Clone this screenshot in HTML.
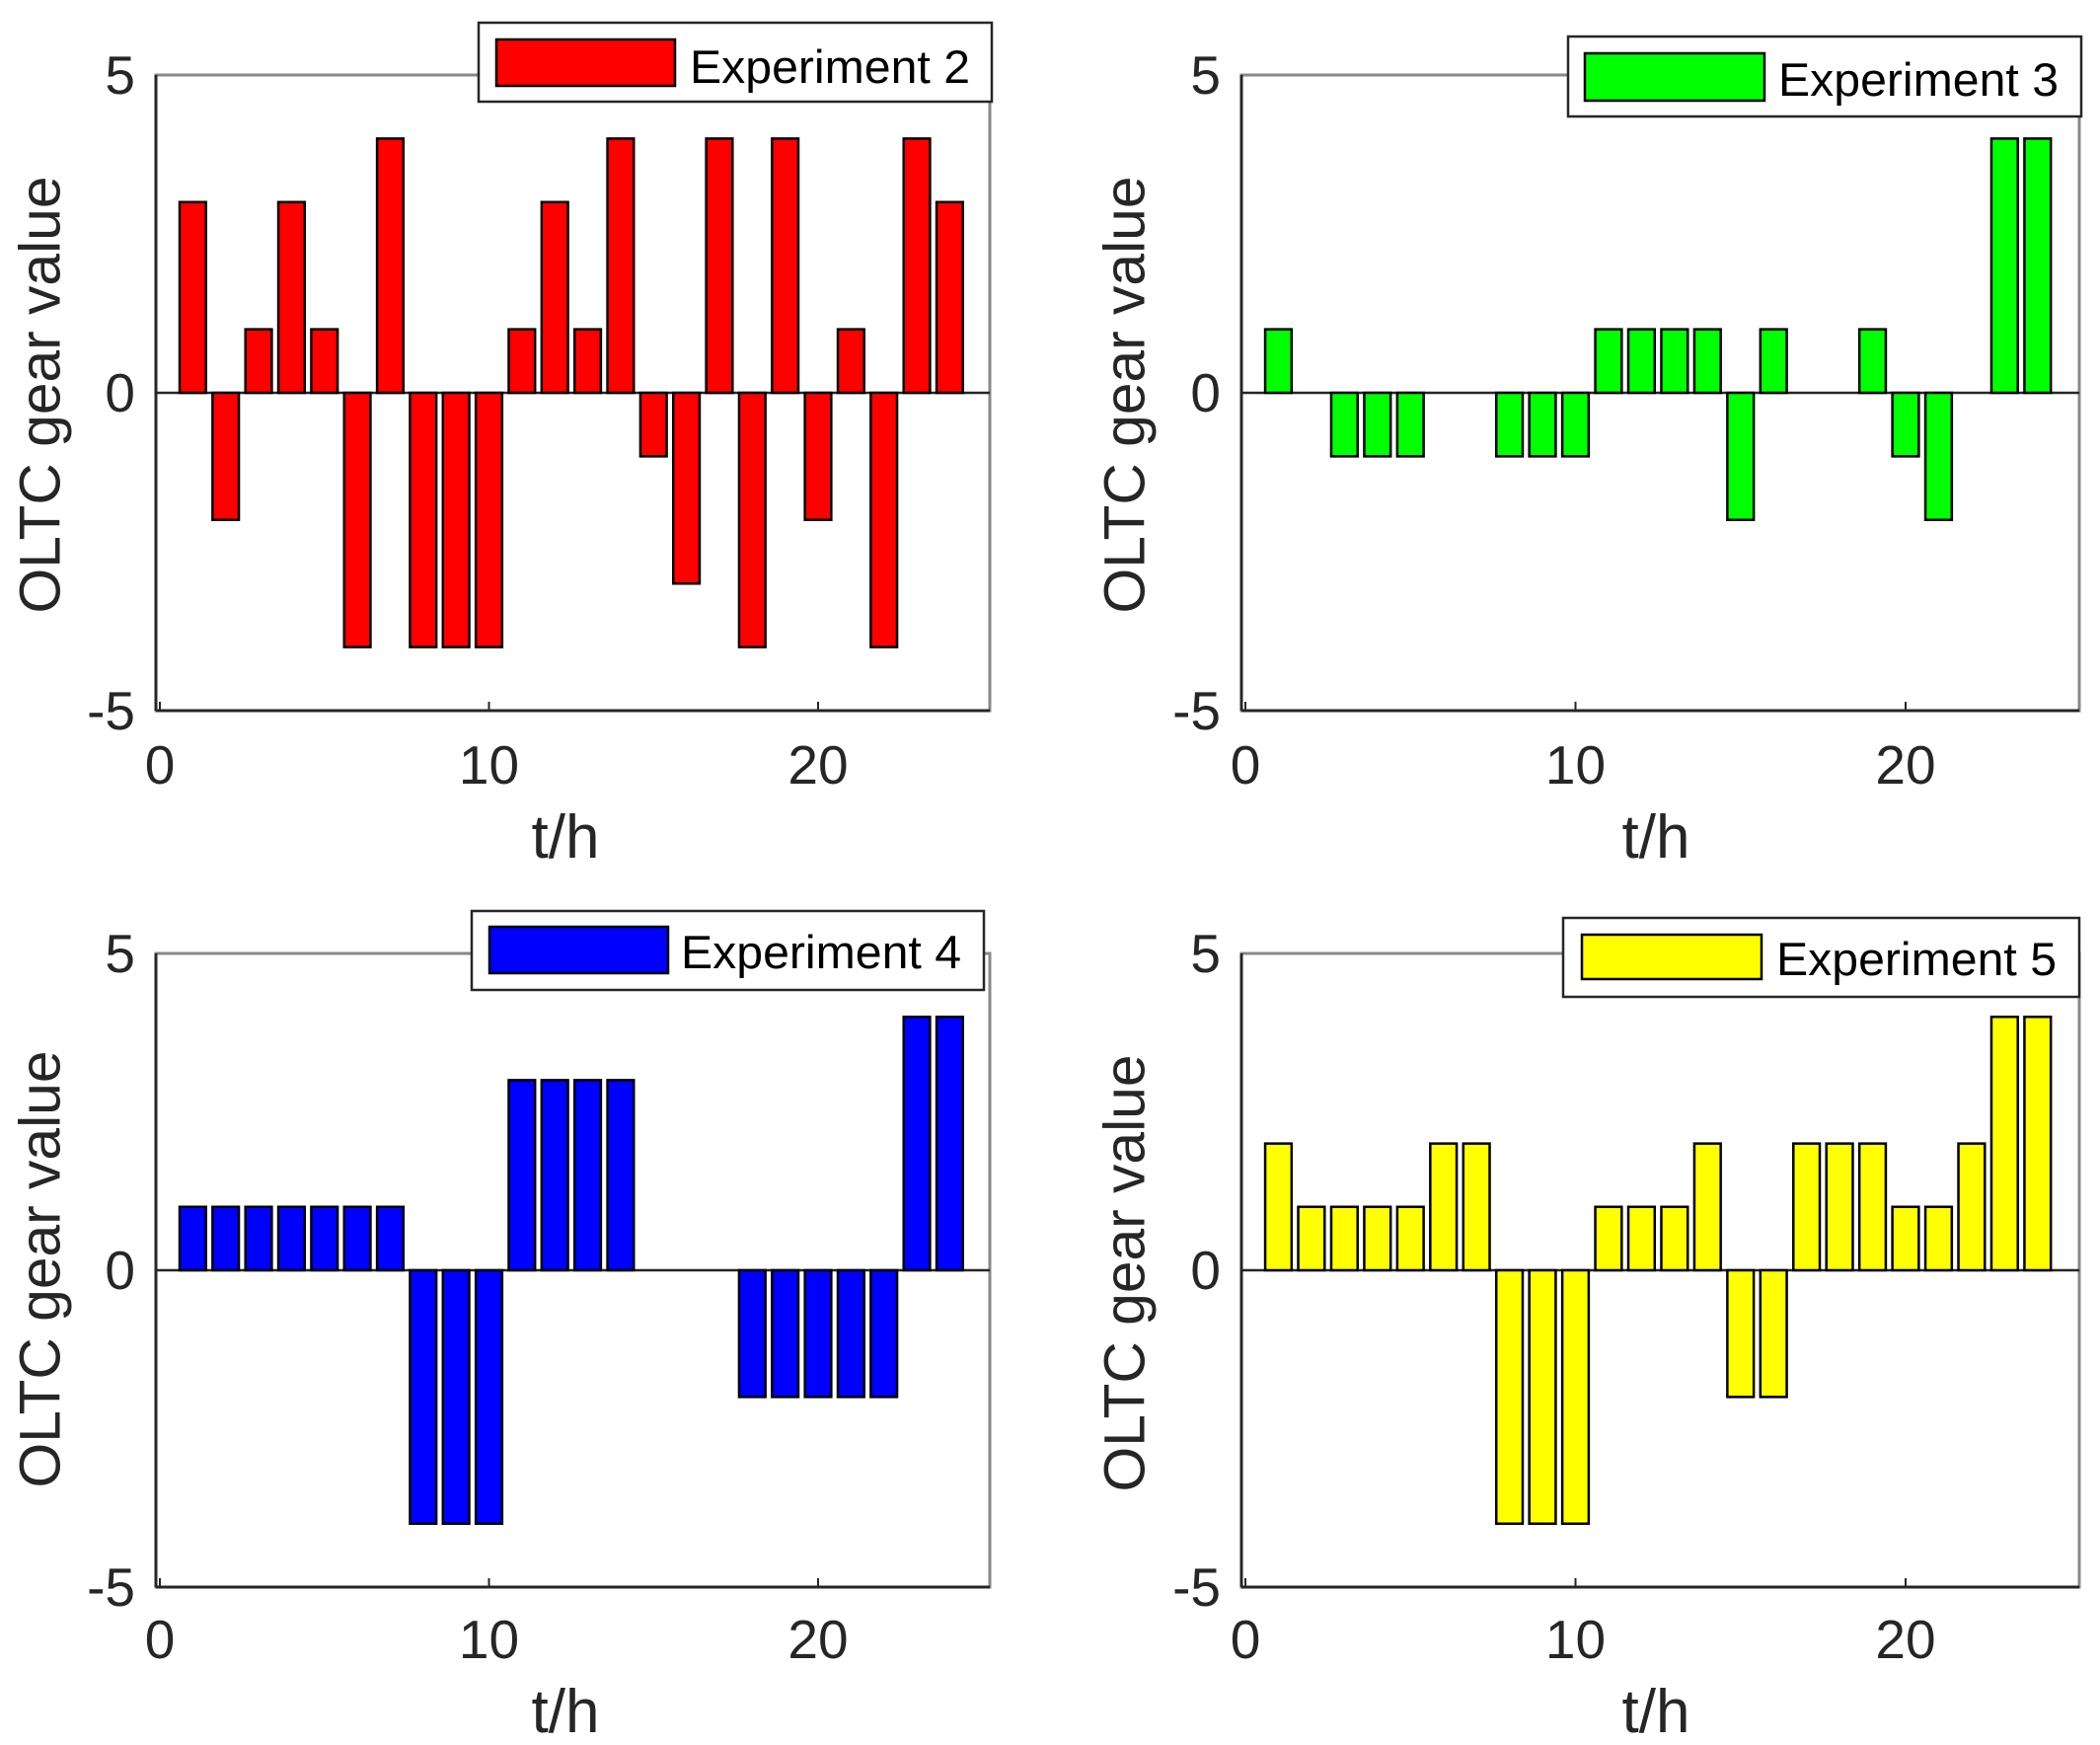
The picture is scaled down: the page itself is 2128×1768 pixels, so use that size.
<!DOCTYPE html>
<html><head><meta charset="utf-8"><style>
html,body{margin:0;padding:0;background:#fff;overflow:hidden}
svg{display:block}
text{font-family:"Liberation Sans",Arial,sans-serif;fill:#262626}
.tk{font-size:55px}
.lb{font-size:58px}
.th{font-size:62px}
.lg{font-size:47px;fill:#000}
rect.b{stroke:#000;stroke-width:2.5}
</style></head><body>
<svg width="2128" height="1768" viewBox="0 0 2128 1768" xmlns="http://www.w3.org/2000/svg">
<rect width="2128" height="1768" fill="#fff"/>

<!-- TL -->
<g>
<rect x="158" y="76" width="845" height="644" fill="none" stroke="#888" stroke-width="3"/>
<line x1="158" y1="720" x2="1003" y2="720" stroke="#262626" stroke-width="3"/>
<line x1="158" y1="76" x2="158" y2="720" stroke="#262626" stroke-width="3"/>
<line x1="158" y1="398" x2="1003" y2="398" stroke="#262626" stroke-width="2.5"/>
<g transform="translate(162,398) scale(33.35,-64.4)" fill="#f00">
<rect class="b" vector-effect="non-scaling-stroke" x="0.6" y="0" width="0.8" height="3"/>
<rect class="b" vector-effect="non-scaling-stroke" x="1.6" y="-2" width="0.8" height="2"/>
<rect class="b" vector-effect="non-scaling-stroke" x="2.6" y="0" width="0.8" height="1"/>
<rect class="b" vector-effect="non-scaling-stroke" x="3.6" y="0" width="0.8" height="3"/>
<rect class="b" vector-effect="non-scaling-stroke" x="4.6" y="0" width="0.8" height="1"/>
<rect class="b" vector-effect="non-scaling-stroke" x="5.6" y="-4" width="0.8" height="4"/>
<rect class="b" vector-effect="non-scaling-stroke" x="6.6" y="0" width="0.8" height="4"/>
<rect class="b" vector-effect="non-scaling-stroke" x="7.6" y="-4" width="0.8" height="4"/>
<rect class="b" vector-effect="non-scaling-stroke" x="8.6" y="-4" width="0.8" height="4"/>
<rect class="b" vector-effect="non-scaling-stroke" x="9.6" y="-4" width="0.8" height="4"/>
<rect class="b" vector-effect="non-scaling-stroke" x="10.6" y="0" width="0.8" height="1"/>
<rect class="b" vector-effect="non-scaling-stroke" x="11.6" y="0" width="0.8" height="3"/>
<rect class="b" vector-effect="non-scaling-stroke" x="12.6" y="0" width="0.8" height="1"/>
<rect class="b" vector-effect="non-scaling-stroke" x="13.6" y="0" width="0.8" height="4"/>
<rect class="b" vector-effect="non-scaling-stroke" x="14.6" y="-1" width="0.8" height="1"/>
<rect class="b" vector-effect="non-scaling-stroke" x="15.6" y="-3" width="0.8" height="3"/>
<rect class="b" vector-effect="non-scaling-stroke" x="16.6" y="0" width="0.8" height="4"/>
<rect class="b" vector-effect="non-scaling-stroke" x="17.6" y="-4" width="0.8" height="4"/>
<rect class="b" vector-effect="non-scaling-stroke" x="18.6" y="0" width="0.8" height="4"/>
<rect class="b" vector-effect="non-scaling-stroke" x="19.6" y="-2" width="0.8" height="2"/>
<rect class="b" vector-effect="non-scaling-stroke" x="20.6" y="0" width="0.8" height="1"/>
<rect class="b" vector-effect="non-scaling-stroke" x="21.6" y="-4" width="0.8" height="4"/>
<rect class="b" vector-effect="non-scaling-stroke" x="22.6" y="0" width="0.8" height="4"/>
<rect class="b" vector-effect="non-scaling-stroke" x="23.6" y="0" width="0.8" height="3"/>
</g>
<g stroke="#262626" stroke-width="2"><line x1="162" y1="720" x2="162" y2="711"/><line x1="495.5" y1="720" x2="495.5" y2="711"/><line x1="829" y1="720" x2="829" y2="711"/></g>
<text class="tk" x="137" y="76" text-anchor="end" dominant-baseline="central">5</text>
<text class="tk" x="137" y="398" text-anchor="end" dominant-baseline="central">0</text>
<text class="tk" x="137" y="720" text-anchor="end" dominant-baseline="central">-5</text>
<text class="tk" x="162" y="794" text-anchor="middle">0</text>
<text class="tk" x="495.5" y="794" text-anchor="middle">10</text>
<text class="tk" x="829" y="794" text-anchor="middle">20</text>
<text class="th" x="573" y="869" text-anchor="middle">t/h</text>
<text class="lb" transform="translate(41,400) rotate(-90)" text-anchor="middle" dominant-baseline="central" textLength="443" lengthAdjust="spacingAndGlyphs">OLTC gear value</text>
<rect x="485" y="23" width="520" height="80" fill="#fff" stroke="#262626" stroke-width="2.5"/>
<rect x="503" y="40" width="181" height="47" fill="#f00" stroke="#000" stroke-width="2.5"/>
<text class="lg" x="699" y="84" textLength="284" lengthAdjust="spacingAndGlyphs">Experiment 2</text>
</g>

<!-- TR -->
<g>
<rect x="1258" y="76" width="849" height="644" fill="none" stroke="#888" stroke-width="3"/>
<line x1="1258" y1="720" x2="2107" y2="720" stroke="#262626" stroke-width="3"/>
<line x1="1258" y1="76" x2="1258" y2="720" stroke="#262626" stroke-width="3"/>
<line x1="1258" y1="398" x2="2107" y2="398" stroke="#262626" stroke-width="2.5"/>
<g transform="translate(1262,398) scale(33.45,-64.4)" fill="#0f0">
<rect class="b" vector-effect="non-scaling-stroke" x="0.6" y="0" width="0.8" height="1"/>
<rect class="b" vector-effect="non-scaling-stroke" x="2.6" y="-1" width="0.8" height="1"/>
<rect class="b" vector-effect="non-scaling-stroke" x="3.6" y="-1" width="0.8" height="1"/>
<rect class="b" vector-effect="non-scaling-stroke" x="4.6" y="-1" width="0.8" height="1"/>
<rect class="b" vector-effect="non-scaling-stroke" x="7.6" y="-1" width="0.8" height="1"/>
<rect class="b" vector-effect="non-scaling-stroke" x="8.6" y="-1" width="0.8" height="1"/>
<rect class="b" vector-effect="non-scaling-stroke" x="9.6" y="-1" width="0.8" height="1"/>
<rect class="b" vector-effect="non-scaling-stroke" x="10.6" y="0" width="0.8" height="1"/>
<rect class="b" vector-effect="non-scaling-stroke" x="11.6" y="0" width="0.8" height="1"/>
<rect class="b" vector-effect="non-scaling-stroke" x="12.6" y="0" width="0.8" height="1"/>
<rect class="b" vector-effect="non-scaling-stroke" x="13.6" y="0" width="0.8" height="1"/>
<rect class="b" vector-effect="non-scaling-stroke" x="14.6" y="-2" width="0.8" height="2"/>
<rect class="b" vector-effect="non-scaling-stroke" x="15.6" y="0" width="0.8" height="1"/>
<rect class="b" vector-effect="non-scaling-stroke" x="18.6" y="0" width="0.8" height="1"/>
<rect class="b" vector-effect="non-scaling-stroke" x="19.6" y="-1" width="0.8" height="1"/>
<rect class="b" vector-effect="non-scaling-stroke" x="20.6" y="-2" width="0.8" height="2"/>
<rect class="b" vector-effect="non-scaling-stroke" x="22.6" y="0" width="0.8" height="4"/>
<rect class="b" vector-effect="non-scaling-stroke" x="23.6" y="0" width="0.8" height="4"/>
</g>
<g stroke="#262626" stroke-width="2"><line x1="1262" y1="720" x2="1262" y2="711"/><line x1="1596.5" y1="720" x2="1596.5" y2="711"/><line x1="1931" y1="720" x2="1931" y2="711"/></g>
<text class="tk" x="1237" y="76" text-anchor="end" dominant-baseline="central">5</text>
<text class="tk" x="1237" y="398" text-anchor="end" dominant-baseline="central">0</text>
<text class="tk" x="1237" y="720" text-anchor="end" dominant-baseline="central">-5</text>
<text class="tk" x="1262" y="794" text-anchor="middle">0</text>
<text class="tk" x="1596.5" y="794" text-anchor="middle">10</text>
<text class="tk" x="1931" y="794" text-anchor="middle">20</text>
<text class="th" x="1678" y="869" text-anchor="middle">t/h</text>
<text class="lb" transform="translate(1140,400) rotate(-90)" text-anchor="middle" dominant-baseline="central" textLength="443" lengthAdjust="spacingAndGlyphs">OLTC gear value</text>
<rect x="1589" y="37" width="520" height="81" fill="#fff" stroke="#262626" stroke-width="2.5"/>
<rect x="1606" y="54" width="182" height="48" fill="#0f0" stroke="#000" stroke-width="2.5"/>
<text class="lg" x="1802" y="97" textLength="284" lengthAdjust="spacingAndGlyphs">Experiment 3</text>
</g>

<!-- BL -->
<g>
<rect x="158" y="966" width="845" height="642" fill="none" stroke="#888" stroke-width="3"/>
<line x1="158" y1="1608" x2="1003" y2="1608" stroke="#262626" stroke-width="3"/>
<line x1="158" y1="966" x2="158" y2="1608" stroke="#262626" stroke-width="3"/>
<line x1="158" y1="1287" x2="1003" y2="1287" stroke="#262626" stroke-width="2.5"/>
<g transform="translate(162,1287) scale(33.35,-64.2)" fill="#00f">
<rect class="b" vector-effect="non-scaling-stroke" x="0.6" y="0" width="0.8" height="1"/>
<rect class="b" vector-effect="non-scaling-stroke" x="1.6" y="0" width="0.8" height="1"/>
<rect class="b" vector-effect="non-scaling-stroke" x="2.6" y="0" width="0.8" height="1"/>
<rect class="b" vector-effect="non-scaling-stroke" x="3.6" y="0" width="0.8" height="1"/>
<rect class="b" vector-effect="non-scaling-stroke" x="4.6" y="0" width="0.8" height="1"/>
<rect class="b" vector-effect="non-scaling-stroke" x="5.6" y="0" width="0.8" height="1"/>
<rect class="b" vector-effect="non-scaling-stroke" x="6.6" y="0" width="0.8" height="1"/>
<rect class="b" vector-effect="non-scaling-stroke" x="7.6" y="-4" width="0.8" height="4"/>
<rect class="b" vector-effect="non-scaling-stroke" x="8.6" y="-4" width="0.8" height="4"/>
<rect class="b" vector-effect="non-scaling-stroke" x="9.6" y="-4" width="0.8" height="4"/>
<rect class="b" vector-effect="non-scaling-stroke" x="10.6" y="0" width="0.8" height="3"/>
<rect class="b" vector-effect="non-scaling-stroke" x="11.6" y="0" width="0.8" height="3"/>
<rect class="b" vector-effect="non-scaling-stroke" x="12.6" y="0" width="0.8" height="3"/>
<rect class="b" vector-effect="non-scaling-stroke" x="13.6" y="0" width="0.8" height="3"/>
<rect class="b" vector-effect="non-scaling-stroke" x="17.6" y="-2" width="0.8" height="2"/>
<rect class="b" vector-effect="non-scaling-stroke" x="18.6" y="-2" width="0.8" height="2"/>
<rect class="b" vector-effect="non-scaling-stroke" x="19.6" y="-2" width="0.8" height="2"/>
<rect class="b" vector-effect="non-scaling-stroke" x="20.6" y="-2" width="0.8" height="2"/>
<rect class="b" vector-effect="non-scaling-stroke" x="21.6" y="-2" width="0.8" height="2"/>
<rect class="b" vector-effect="non-scaling-stroke" x="22.6" y="0" width="0.8" height="4"/>
<rect class="b" vector-effect="non-scaling-stroke" x="23.6" y="0" width="0.8" height="4"/>
</g>
<g stroke="#262626" stroke-width="2"><line x1="162" y1="1608" x2="162" y2="1599"/><line x1="495.5" y1="1608" x2="495.5" y2="1599"/><line x1="829" y1="1608" x2="829" y2="1599"/></g>
<text class="tk" x="137" y="966" text-anchor="end" dominant-baseline="central">5</text>
<text class="tk" x="137" y="1287" text-anchor="end" dominant-baseline="central">0</text>
<text class="tk" x="137" y="1608" text-anchor="end" dominant-baseline="central">-5</text>
<text class="tk" x="162" y="1680" text-anchor="middle">0</text>
<text class="tk" x="495.5" y="1680" text-anchor="middle">10</text>
<text class="tk" x="829" y="1680" text-anchor="middle">20</text>
<text class="th" x="573" y="1755" text-anchor="middle">t/h</text>
<text class="lb" transform="translate(41,1286) rotate(-90)" text-anchor="middle" dominant-baseline="central" textLength="443" lengthAdjust="spacingAndGlyphs">OLTC gear value</text>
<rect x="478" y="923" width="519" height="80" fill="#fff" stroke="#262626" stroke-width="2.5"/>
<rect x="496" y="939" width="181" height="47" fill="#00f" stroke="#000" stroke-width="2.5"/>
<text class="lg" x="690" y="981" textLength="284" lengthAdjust="spacingAndGlyphs">Experiment 4</text>
</g>

<!-- BR -->
<g>
<rect x="1258" y="966" width="849" height="642" fill="none" stroke="#888" stroke-width="3"/>
<line x1="1258" y1="1608" x2="2107" y2="1608" stroke="#262626" stroke-width="3"/>
<line x1="1258" y1="966" x2="1258" y2="1608" stroke="#262626" stroke-width="3"/>
<line x1="1258" y1="1287" x2="2107" y2="1287" stroke="#262626" stroke-width="2.5"/>
<g transform="translate(1262,1287) scale(33.45,-64.2)" fill="#ff0">
<rect class="b" vector-effect="non-scaling-stroke" x="0.6" y="0" width="0.8" height="2"/>
<rect class="b" vector-effect="non-scaling-stroke" x="1.6" y="0" width="0.8" height="1"/>
<rect class="b" vector-effect="non-scaling-stroke" x="2.6" y="0" width="0.8" height="1"/>
<rect class="b" vector-effect="non-scaling-stroke" x="3.6" y="0" width="0.8" height="1"/>
<rect class="b" vector-effect="non-scaling-stroke" x="4.6" y="0" width="0.8" height="1"/>
<rect class="b" vector-effect="non-scaling-stroke" x="5.6" y="0" width="0.8" height="2"/>
<rect class="b" vector-effect="non-scaling-stroke" x="6.6" y="0" width="0.8" height="2"/>
<rect class="b" vector-effect="non-scaling-stroke" x="7.6" y="-4" width="0.8" height="4"/>
<rect class="b" vector-effect="non-scaling-stroke" x="8.6" y="-4" width="0.8" height="4"/>
<rect class="b" vector-effect="non-scaling-stroke" x="9.6" y="-4" width="0.8" height="4"/>
<rect class="b" vector-effect="non-scaling-stroke" x="10.6" y="0" width="0.8" height="1"/>
<rect class="b" vector-effect="non-scaling-stroke" x="11.6" y="0" width="0.8" height="1"/>
<rect class="b" vector-effect="non-scaling-stroke" x="12.6" y="0" width="0.8" height="1"/>
<rect class="b" vector-effect="non-scaling-stroke" x="13.6" y="0" width="0.8" height="2"/>
<rect class="b" vector-effect="non-scaling-stroke" x="14.6" y="-2" width="0.8" height="2"/>
<rect class="b" vector-effect="non-scaling-stroke" x="15.6" y="-2" width="0.8" height="2"/>
<rect class="b" vector-effect="non-scaling-stroke" x="16.6" y="0" width="0.8" height="2"/>
<rect class="b" vector-effect="non-scaling-stroke" x="17.6" y="0" width="0.8" height="2"/>
<rect class="b" vector-effect="non-scaling-stroke" x="18.6" y="0" width="0.8" height="2"/>
<rect class="b" vector-effect="non-scaling-stroke" x="19.6" y="0" width="0.8" height="1"/>
<rect class="b" vector-effect="non-scaling-stroke" x="20.6" y="0" width="0.8" height="1"/>
<rect class="b" vector-effect="non-scaling-stroke" x="21.6" y="0" width="0.8" height="2"/>
<rect class="b" vector-effect="non-scaling-stroke" x="22.6" y="0" width="0.8" height="4"/>
<rect class="b" vector-effect="non-scaling-stroke" x="23.6" y="0" width="0.8" height="4"/>
</g>
<g stroke="#262626" stroke-width="2"><line x1="1262" y1="1608" x2="1262" y2="1599"/><line x1="1596.5" y1="1608" x2="1596.5" y2="1599"/><line x1="1931" y1="1608" x2="1931" y2="1599"/></g>
<text class="tk" x="1237" y="966" text-anchor="end" dominant-baseline="central">5</text>
<text class="tk" x="1237" y="1287" text-anchor="end" dominant-baseline="central">0</text>
<text class="tk" x="1237" y="1608" text-anchor="end" dominant-baseline="central">-5</text>
<text class="tk" x="1262" y="1680" text-anchor="middle">0</text>
<text class="tk" x="1596.5" y="1680" text-anchor="middle">10</text>
<text class="tk" x="1931" y="1680" text-anchor="middle">20</text>
<text class="th" x="1678" y="1755" text-anchor="middle">t/h</text>
<text class="lb" transform="translate(1140,1290) rotate(-90)" text-anchor="middle" dominant-baseline="central" textLength="443" lengthAdjust="spacingAndGlyphs">OLTC gear value</text>
<rect x="1584" y="930" width="523" height="80" fill="#fff" stroke="#262626" stroke-width="2.5"/>
<rect x="1603" y="947" width="182" height="45" fill="#ff0" stroke="#000" stroke-width="2.5"/>
<text class="lg" x="1800" y="988" textLength="284" lengthAdjust="spacingAndGlyphs">Experiment 5</text>
</g>
</svg>
</body></html>
